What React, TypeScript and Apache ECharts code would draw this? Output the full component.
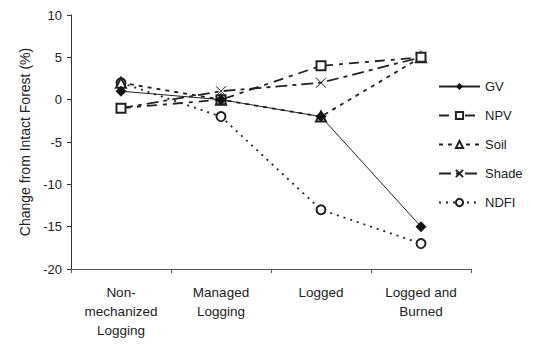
import React, { useEffect, useRef } from "react";
import * as echarts from "echarts";

const categories = ["Non-\nmechanized\nLogging", "Managed\nLogging", "Logged", "Logged and\nBurned"];
const gv = [1, 0, -2, -15];
const npv = [-1, 0, 4, 5];
const soil = [2, 0, -2, 5];
const shade = [-1, 1, 2, 5];
const ndfi = [2, -2, -13, -17];

const INK = "#222";
const FONT = "Arial, 'Liberation Sans', sans-serif";

export default function App() {
  const ref = useRef<HTMLDivElement>(null);
  useEffect(() => {
    if (!ref.current) return;
    const chart = echarts.init(ref.current, undefined, { renderer: "svg" });
    const mk = (name: string, data: number[], symbol: string, size: number, lineType: any, width: number, itemStyle: any) => ({
      name,
      type: "line",
      data,
      symbol,
      symbolSize: size,
      showSymbol: true,
      lineStyle: { color: INK, width, type: lineType },
      itemStyle,
      emphasis: { disabled: true },
    });
    chart.setOption({
      animation: false,
      textStyle: { fontFamily: FONT },
      grid: { left: 71, right: 62, top: 15, bottom: 86, containLabel: false },
      legend: {
        orient: "vertical",
        left: 433,
        top: 75,
        itemWidth: 41,
        itemHeight: 9,
        itemGap: 16,
        textStyle: { color: INK, fontSize: 13, fontFamily: FONT },
        data: ["GV", "NPV", "Soil", "Shade", "NDFI"],
      },
      xAxis: {
        type: "category",
        data: categories,
        boundaryGap: true,
        axisLine: { onZero: false, lineStyle: { color: "#555", width: 1 } },
        axisTick: { show: true, length: 4, alignWithLabel: false, lineStyle: { color: "#555" } },
        axisLabel: { color: INK, fontSize: 13.5, lineHeight: 19, margin: 14, interval: 0, fontFamily: FONT },
        splitLine: { show: false },
      },
      yAxis: {
        type: "value",
        min: -20,
        max: 10,
        interval: 5,
        name: "Change from Intact Forest (%)",
        nameLocation: "middle",
        nameGap: 36,
        nameTextStyle: { color: INK, fontSize: 14, fontFamily: FONT },
        axisLine: { show: true, lineStyle: { color: "#333", width: 1 } },
        axisTick: { show: true, length: 4, lineStyle: { color: "#333" } },
        axisLabel: { color: INK, fontSize: 13, margin: 9, fontFamily: FONT },
        splitLine: { show: false },
      },
      series: [
        mk("NDFI", ndfi, "emptyCircle", 9, [2, 5], 1.8, { color: INK, borderColor: INK, borderWidth: 1 }),
        mk("Soil", soil, "emptyTriangle", 10, [4, 5], 1.8, { color: INK, borderColor: INK, borderWidth: 1 }),
        mk("Shade", shade, "path://M0,0L10,10M10,0L0,10", 10, [12, 5, 4, 5], 1.8, { color: "none", borderColor: INK, borderWidth: 1 }),
        mk("NPV", npv, "emptyRect", 9, [10, 6, 4, 6], 1.8, { color: INK, borderColor: INK, borderWidth: 1 }),
        mk("GV", gv, "diamond", 11, "solid", 1, { color: "#111", borderColor: "#111", borderWidth: 0 }),
      ],
    });
    return () => chart.dispose();
  }, []);
  return <div ref={ref} style={{ width: 533, height: 355, position: "absolute", left: 0, top: 0, background: "#fff" }} />;
}
